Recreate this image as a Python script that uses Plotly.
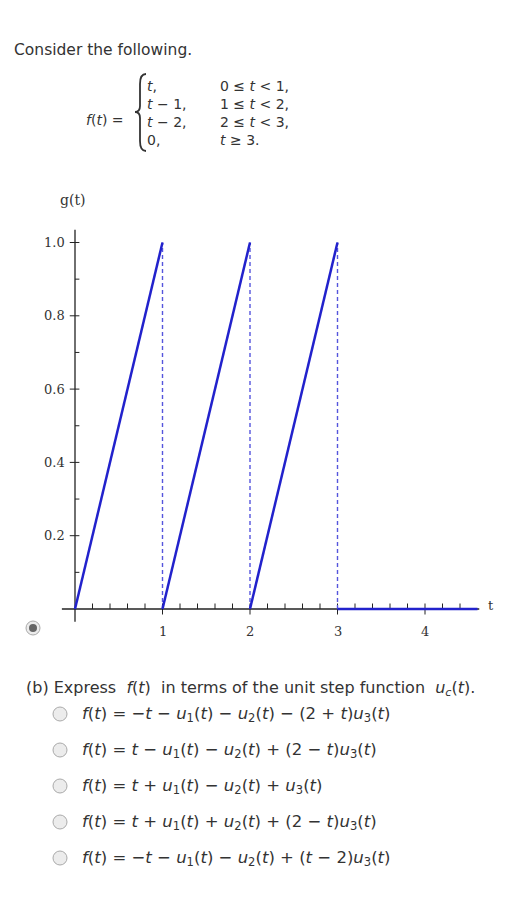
import plotly.graph_objects as go

# sawtooth data
seg_t = [[0, 1], [1, 2], [2, 3], [3, 4.6]]
seg_g = [[0, 1], [0, 1], [0, 1], [0, 0]]
jump_t = [1, 2, 3]
x_ticks = [1, 2, 3, 4]
y_ticks = [0.2, 0.4, 0.6, 0.8, 1.0]
y_tick_labels = ["0.2", "0.4", "0.6", "0.8", "1.0"]

piece_expr = ["<i>t</i>,", "<i>t</i> − 1,", "<i>t</i> − 2,", "0,"]
piece_cond = ["0 ≤ <i>t</i> < 1,", "1 ≤ <i>t</i> < 2,", "2 ≤ <i>t</i> < 3,", "<i>t</i> ≥ 3."]

options = [
    "<i>f</i>(<i>t</i>) = −<i>t</i> − <i>u</i><sub>1</sub>(<i>t</i>) − <i>u</i><sub>2</sub>(<i>t</i>) − (2 + <i>t</i>)<i>u</i><sub>3</sub>(<i>t</i>)",
    "<i>f</i>(<i>t</i>) = <i>t</i> − <i>u</i><sub>1</sub>(<i>t</i>) − <i>u</i><sub>2</sub>(<i>t</i>) + (2 − <i>t</i>)<i>u</i><sub>3</sub>(<i>t</i>)",
    "<i>f</i>(<i>t</i>) = <i>t</i> + <i>u</i><sub>1</sub>(<i>t</i>) − <i>u</i><sub>2</sub>(<i>t</i>) + <i>u</i><sub>3</sub>(<i>t</i>)",
    "<i>f</i>(<i>t</i>) = <i>t</i> + <i>u</i><sub>1</sub>(<i>t</i>) + <i>u</i><sub>2</sub>(<i>t</i>) + (2 − <i>t</i>)<i>u</i><sub>3</sub>(<i>t</i>)",
    "<i>f</i>(<i>t</i>) = −<i>t</i> − <i>u</i><sub>1</sub>(<i>t</i>) − <i>u</i><sub>2</sub>(<i>t</i>) + (<i>t</i> − 2)<i>u</i><sub>3</sub>(<i>t</i>)",
]
option_y = [714, 750, 786, 822, 858]

W, H = 528, 897
OFF = 8                 # page body margin
X0, PX = 75 - OFF, 87.5   # pixel of t=0, px per unit
Y0, PY = 609 - OFF, 366.5  # pixel of g=0, px per unit
SANS = "DejaVu Sans"

fig = go.Figure()
axc = "#222"
fig.add_trace(go.Scatter(x=[-0.15, 4.62], y=[0, 0], mode="lines", line=dict(color=axc, width=1.3)))
fig.add_trace(go.Scatter(x=[0, 0], y=[-0.035, 1.035], mode="lines", line=dict(color=axc, width=1.3)))
for i in range(1, 23):
    t = i * 0.2
    fig.add_trace(go.Scatter(x=[t, t], y=[0, 0.015], mode="lines", line=dict(color=axc, width=1)))
for t in x_ticks:
    fig.add_trace(go.Scatter(x=[t, t], y=[0, -0.015], mode="lines", line=dict(color=axc, width=1)))
for i in range(1, 11):
    v = i * 0.1
    fig.add_trace(go.Scatter(x=[0, 0.05], y=[v, v], mode="lines", line=dict(color=axc, width=1)))
for v in y_ticks:
    fig.add_trace(go.Scatter(x=[-0.06, 0], y=[v, v], mode="lines", line=dict(color=axc, width=1)))

for t in jump_t:
    fig.add_trace(go.Scatter(x=[t, t], y=[0, 1], mode="lines",
                             line=dict(color="#5555dd", width=1.4, dash="4px,3px")))
for tt, gg in zip(seg_t, seg_g):
    fig.add_trace(go.Scatter(x=tt, y=gg, mode="lines", line=dict(color="#2222cc", width=2.5)))

ann = []
for t in x_ticks:
    ann.append(dict(x=t, y=-0.035, text=str(t), showarrow=False, yanchor="top",
                    font=dict(family="DejaVu Serif", size=13, color="#333")))
for v, lab in zip(y_ticks, y_tick_labels):
    ann.append(dict(x=-0.09, y=v, text=lab, showarrow=False, xanchor="right",
                    font=dict(family="DejaVu Serif", size=13, color="#333")))
ann.append(dict(x=4.75, y=0.01, text="t", showarrow=False,
                font=dict(family="DejaVu Serif", size=13, color="#333")))


def pa(px, py, text, size=16, xanchor="left", family=SANS, color="#333"):
    ann.append(dict(xref="paper", yref="paper", x=(px - OFF) / W, y=1 - (py - OFF) / H,
                    text=text, showarrow=False, xanchor=xanchor, yanchor="middle",
                    font=dict(family=family, size=size, color=color)))


pa(12, 50, "Consider the following.", size=15.5)
pa(126, 120, "<i>f</i>(<i>t</i>) =", size=14, xanchor="right")
for i, (a, b) in enumerate(zip(piece_expr, piece_cond)):
    pa(145, 86 + i * 18, a, size=14)
    pa(218, 86 + i * 18, b, size=14)
pa(58, 200, "g(t)", size=14, family="DejaVu Serif")
pa(24, 688, "(b) Express  <i>f</i>(<i>t</i>)  in terms of the unit step function  <i>u</i><sub><i>c</i></sub>(<i>t</i>).",
   size=16)
for y, txt in zip(option_y, options):
    pa(80, y, txt, size=16.5)

fig.update_layout(annotations=ann)


def px_x(p):
    return (p - OFF) / W


def px_y(p):
    return 1 - (p - OFF) / H


shapes = []
# brace of the piecewise function
bx, top, mid, bot = 140, 74, 112, 151
brace = (f"M {px_x(bx + 6)},{px_y(top)} Q {px_x(bx)},{px_y(top)} {px_x(bx)},{px_y(top + 10)} "
         f"L {px_x(bx)},{px_y(mid - 6)} Q {px_x(bx)},{px_y(mid)} {px_x(bx - 5)},{px_y(mid)} "
         f"Q {px_x(bx)},{px_y(mid)} {px_x(bx)},{px_y(mid + 6)} "
         f"L {px_x(bx)},{px_y(bot - 10)} Q {px_x(bx)},{px_y(bot)} {px_x(bx + 6)},{px_y(bot)}")
shapes.append(dict(type="path", xref="paper", yref="paper", path=brace,
                   line=dict(color="#333", width=1.8)))
for cx, cy in [(33, 628)] + [(60, y) for y in option_y]:
    shapes.append(dict(type="circle", xref="paper", yref="paper",
                       x0=px_x(cx - 7), x1=px_x(cx + 7), y0=px_y(cy + 7), y1=px_y(cy - 7),
                       line=dict(color="#aaa", width=1), fillcolor="#ececec"))
shapes.append(dict(type="circle", xref="paper", yref="paper",
                   x0=px_x(29), x1=px_x(37), y0=px_y(632), y1=px_y(624),
                   line=dict(width=0), fillcolor="#666"))
fig.update_layout(shapes=shapes)

fig.update_layout(
    width=W, height=H, margin=dict(l=0, r=0, t=0, b=0),
    paper_bgcolor="white", plot_bgcolor="white", showlegend=False,
    xaxis=dict(range=[-X0 / PX, (W - X0) / PX], visible=False, fixedrange=True),
    yaxis=dict(range=[-(H - Y0) / PY, Y0 / PY], visible=False, fixedrange=True),
)

fig.write_html("out.html")
